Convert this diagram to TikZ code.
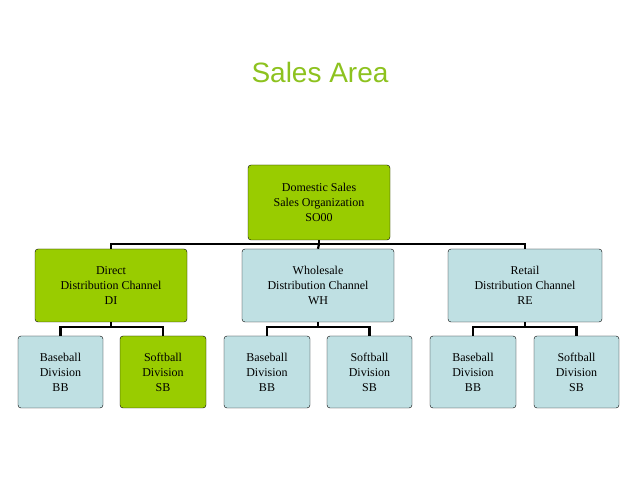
\documentclass[tikz,border=0pt]{standalone}
\usepackage{fontspec}
\setmainfont{Liberation Serif}
\newfontfamily\titlefont{Liberation Sans}
\definecolor{gfill}{HTML}{99CC00}
\definecolor{bfill}{HTML}{BFE0E3}
\definecolor{ttl}{HTML}{8DC21F}
\tikzset{
 box/.style={draw=black, rounded corners=3pt, align=center, font=\fontsize{12}{15}\selectfont, inner sep=0pt},
 conn/.style={line width=2.2pt, black}
}
\begin{document}
\begin{tikzpicture}[x=1pt,y=-1pt]
\useasboundingbox (0,0) rectangle (638,478);
\node[font=\titlefont\fontsize{28}{32}\selectfont, text=ttl] (title) at (320,72) {Sales Area};
\newcommand{\bx}[7]{\node[box, fill=#6, minimum width=#4pt, minimum height=#5pt] (#1) at (#2,#3) {#7};}
\bx{root}{319}{202.5}{142}{75}{gfill}{Domestic Sales\\Sales Organization\\SO00}
\bx{di}{111}{285.5}{152}{73}{gfill}{Direct\\Distribution Channel\\DI}
\bx{wh}{318}{285.5}{152}{73}{bfill}{Wholesale\\Distribution Channel\\WH}
\bx{re}{525}{285.5}{154}{73}{bfill}{Retail\\Distribution Channel\\RE}
\bx{b1}{60.5}{372}{85}{72}{bfill}{Baseball\\Division\\BB}
\bx{s1}{163}{372}{86}{72}{gfill}{Softball\\Division\\SB}
\bx{b2}{267}{372}{86}{72}{bfill}{Baseball\\Division\\BB}
\bx{s2}{369.5}{372}{85}{72}{bfill}{Softball\\Division\\SB}
\bx{b3}{473}{372}{86}{72}{bfill}{Baseball\\Division\\BB}
\bx{s3}{576.5}{372}{85}{72}{bfill}{Softball\\Division\\SB}
\draw[conn] (root.south) -- ++(0,4) coordinate (r1);
\draw[conn] (di.north) |- (r1) -| (re.north);
\draw[conn] (r1) -- (wh.north);
\foreach \p/\a/\b in {di/b1/s1, wh/b2/s2, re/b3/s3}{
 \draw[conn] (\p.south) -- ++(0,5) coordinate (m);
 \draw[conn] (\a.north) |- (m) -| (\b.north);
}
\end{tikzpicture}
\end{document}
